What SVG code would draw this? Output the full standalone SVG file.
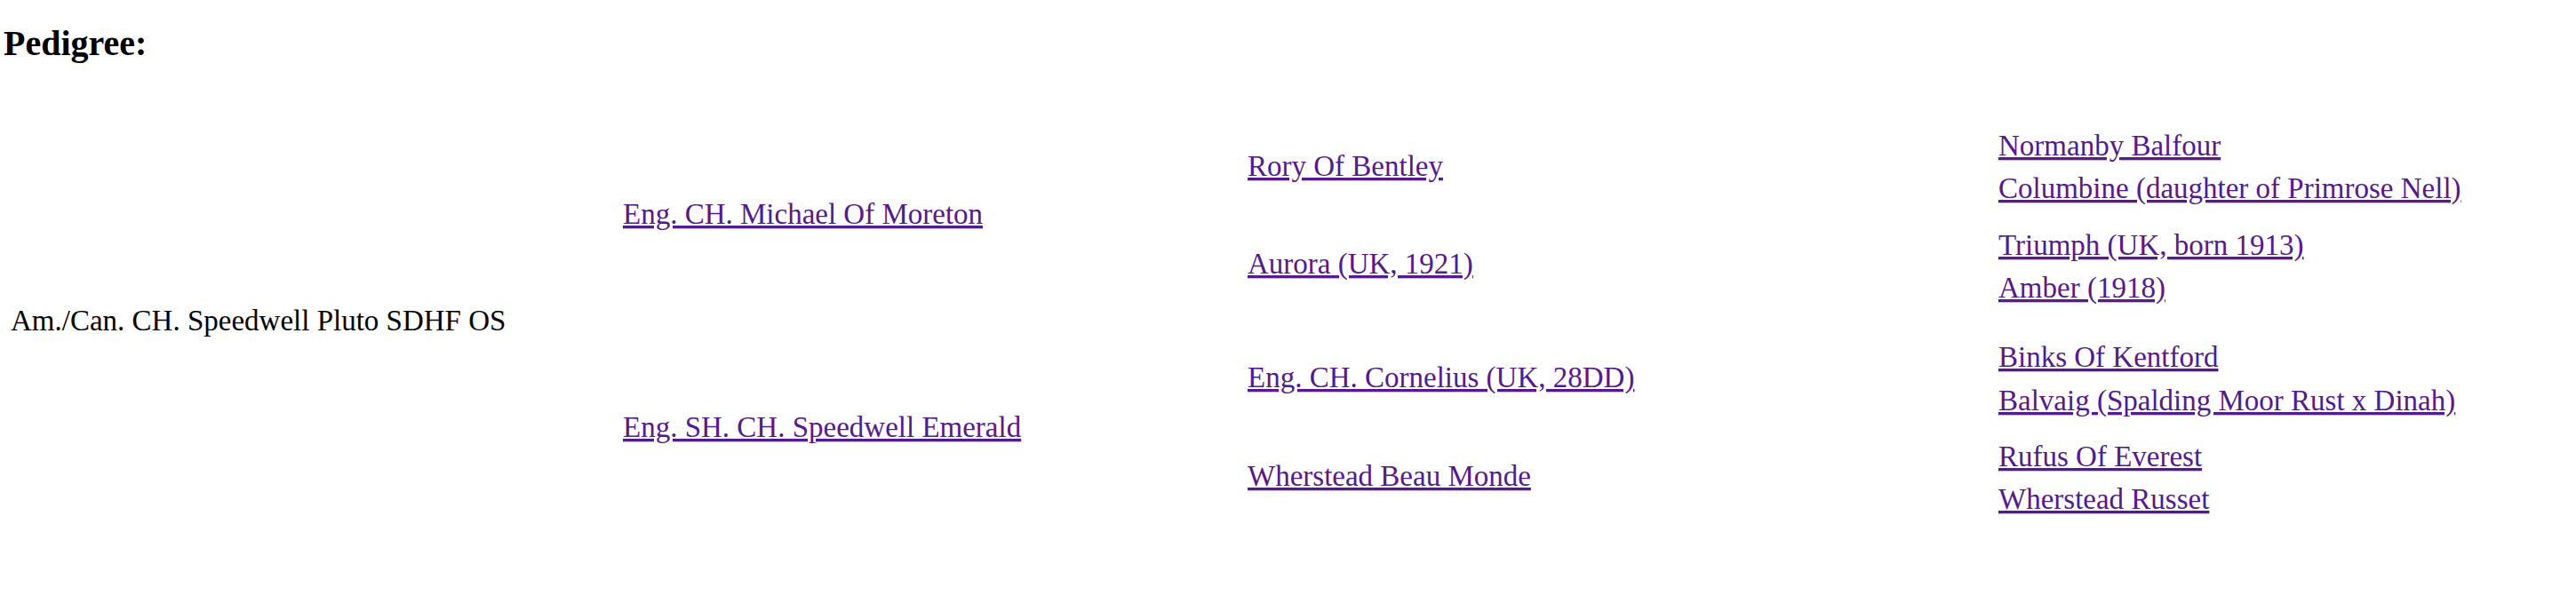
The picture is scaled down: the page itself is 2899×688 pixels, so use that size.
<svg xmlns="http://www.w3.org/2000/svg" width="2899" height="688" viewBox="0 0 2899 688">
<style>
text { font-family: "Liberation Serif", "Times New Roman", serif; font-size: 33px; }
.h { font-weight: bold; font-size: 40px; fill: #000; }
.root { fill: #000; }
.lnk { fill: #551A8B; text-decoration: underline; }
</style>
<rect width="2899" height="688" fill="#ffffff"/>
<g id="title"><text class="h" x="4" y="62">Pedigree:</text></g>
<g id="connectors"></g>
<g id="root"><text class="root" x="12" y="372">Am./Can. CH. Speedwell Pluto SDHF OS</text></g>
<g id="sire"><text class="lnk" x="701" y="252">Eng. CH. Michael Of Moreton</text></g>
<g id="dam"><text class="lnk" x="701" y="492">Eng. SH. CH. Speedwell Emerald</text></g>
<g id="ss"><text class="lnk" x="1404" y="198">Rory Of Bentley</text></g>
<g id="sd"><text class="lnk" x="1404" y="308">Aurora (UK, 1921)</text></g>
<g id="ds"><text class="lnk" x="1404" y="436">Eng. CH. Cornelius (UK, 28DD)</text></g>
<g id="dd"><text class="lnk" x="1404" y="547">Wherstead Beau Monde</text></g>
<g id="sss"><text class="lnk" x="2249" y="175">Normanby Balfour</text></g>
<g id="ssd"><text class="lnk" x="2249" y="223">Columbine (daughter of Primrose Nell)</text></g>
<g id="sds"><text class="lnk" x="2249" y="287">Triumph (UK, born 1913)</text></g>
<g id="sdd"><text class="lnk" x="2249" y="335">Amber (1918)</text></g>
<g id="dss"><text class="lnk" x="2249" y="413">Binks Of Kentford</text></g>
<g id="dsd"><text class="lnk" x="2249" y="462">Balvaig (Spalding Moor Rust x Dinah)</text></g>
<g id="dds"><text class="lnk" x="2249" y="525">Rufus Of Everest</text></g>
<g id="ddd"><text class="lnk" x="2249" y="573">Wherstead Russet</text></g>
</svg>
